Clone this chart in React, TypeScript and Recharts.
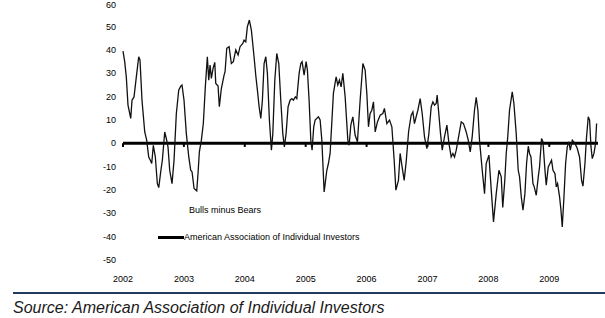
import React from "react";
import {
  LineChart,
  Line,
  XAxis,
  YAxis,
  ReferenceLine,
} from "recharts";

// time in years since Jan 2002
const yearsSince2002 = [
  0.0, 0.028, 0.054, 0.082, 0.127, 0.148, 0.181, 0.219, 0.258, 0.279, 0.312, 0.357, 0.389, 0.422, 0.449, 0.472,
  0.498, 0.531, 0.564, 0.587, 0.619, 0.646, 0.685, 0.711, 0.739, 0.767, 0.805, 0.838, 0.876, 0.915, 0.948, 0.969,
  1.002, 1.04, 1.08, 1.112, 1.134, 1.167, 1.211, 1.232, 1.254, 1.287, 1.319, 1.352, 1.385, 1.408, 1.43, 1.451,
  1.479, 1.507, 1.523, 1.561, 1.582, 1.615, 1.66, 1.676, 1.704, 1.742, 1.779, 1.812, 1.852, 1.89, 1.922, 1.967,
  1.988, 2.016, 2.042, 2.075, 2.108, 2.152, 2.18, 2.207, 2.235, 2.263, 2.289, 2.317, 2.345, 2.371, 2.404, 2.437,
  2.46, 2.493, 2.525, 2.558, 2.591, 2.624, 2.65, 2.678, 2.711, 2.744, 2.772, 2.798, 2.831, 2.854, 2.892, 2.92,
  2.941, 2.974, 3.007, 3.028, 3.056, 3.084, 3.105, 3.132, 3.155, 3.209, 3.237, 3.265, 3.303, 3.347, 3.373, 3.401,
  3.455, 3.5, 3.527, 3.554, 3.582, 3.61, 3.648, 3.692, 3.713, 3.741, 3.774, 3.812, 3.85, 3.894, 3.939, 3.976,
  4.004, 4.031, 4.058, 4.086, 4.113, 4.141, 4.178, 4.223, 4.267, 4.293, 4.333, 4.376, 4.415, 4.453, 4.481, 4.523,
  4.551, 4.579, 4.617, 4.65, 4.69, 4.732, 4.76, 4.786, 4.814, 4.842, 4.88, 4.913, 4.951, 4.99, 5.023, 5.061,
  5.089, 5.115, 5.143, 5.159, 5.181, 5.214, 5.242, 5.279, 5.319, 5.352, 5.389, 5.417, 5.444, 5.472, 5.516, 5.554,
  5.591, 5.636, 5.669, 5.702, 5.734, 5.772, 5.8, 5.828, 5.854, 5.899, 5.937, 5.964, 6.009, 6.047, 6.084, 6.129,
  6.173, 6.211, 6.236, 6.269, 6.293, 6.318, 6.347, 6.392, 6.419, 6.457, 6.49, 6.512, 6.54, 6.568, 6.6, 6.627,
  6.655, 6.676, 6.699, 6.732, 6.753, 6.786, 6.819, 6.84, 6.873, 6.896, 6.929, 6.95, 6.983, 7.011, 7.037, 7.061,
  7.093, 7.115, 7.136, 7.169, 7.192, 7.213, 7.241, 7.268, 7.295, 7.323, 7.345, 7.378, 7.422, 7.46, 7.497, 7.53,
  7.553, 7.586, 7.608, 7.64, 7.662, 7.685, 7.706, 7.734, 7.76, 7.777,
];

// AAII bulls minus bears, percentage points
const bullsMinusBears = [
  39.4, 34.9, 28.4, 16.3, 10.6, 18.4, 19.8, 28.4, 37, 35.6, 18.4, 4.8, 1.3, -5.9, -7.3, -8.7,
  -0.9, -5.9, -17.3, -19, -12.3, -7.3, 4.8, 2, -1.6, -11.6, -17.3, -7.3, 12.7, 22.7, 24.4, 24.9,
  18.4, 4.1, -5.9, -11.6, -12.3, -19.4, -20.4, -13, -3.7, 1.3, 8.4, 24.1, 37, 27, 33.4, 27.7,
  32, 34.6, 25.6, 24.5, 15.6, 23.4, 29.1, 30.6, 40.6, 41.3, 34.1, 34.9, 39.9, 37.7, 41.3, 42.7,
  44.1, 43.4, 49.8, 52.7, 48.4, 37, 29.1, 22.7, 15.6, 10.6, 18.4, 34.1, 37, 29.9, 9.9, -3,
  4.1, 27, 38.4, 34.1, 18.4, 4.1, -1.6, 4.1, 15.6, 18.4, 19.1, 18.4, 19.8, 19.1, 29.9, 34.1,
  34.9, 29.1, 34.9, 31.3, 18.4, 1.3, -3, 7, 9.9, 11.3, 9.9, 1.3, -20.9, -11.6, -8.7, -4.4,
  21.3, 28.4, 24.9, 27, 24.1, 29.9, 19.8, 1.3, -0.9, 7.7, 11.3, 3.4, 0.6, 18.4, 34.1, 31.3,
  21.3, 7, 12.7, 14.1, 17.7, 4.8, 9.1, 12, 12.7, 14.9, 8.4, 9.9, 7, -7.3, -20.1, -15.9,
  -4.4, -9.4, -15.9, -8, 5, 12, 13.4, 8.4, 11.3, 14.1, 19.1, 12.7, 2.7, -2.3, 4.1, 15.6,
  17.7, 16.3, 17, 20.6, 14.1, 4.1, -3, 2.7, 7.7, -0.1, -5.9, -4.4, -5.9, -3, 3.4, 9.1,
  8.4, 4.8, 1.3, -3.7, 2.7, 14.1, 19.6, 14.1, 1.3, -11.6, -21.6, -8.7, -5.1, -20.1, -33.7, -21.6,
  -11.6, -14.4, -27.5, -16, -4.4, 2.7, 14.1, 22, 17, 4.1, -11.6, -14.4, -23, -28.7, -21.6, -8.7,
  -1.3, -4.4, -5.9, -17.3, -18.7, -22.3, -14.4, -10.2, 2, 0.6, -11.6, -18, -10.2, -8.7, -7.3, -11.6,
  -13, -18.7, -17.3, -23, -28.7, -35.9, -23, -8.7, -1.6, 0.6, -3, 1.3, -0.1, -2.3, -5.9, -15.9,
  -18.4, -8.7, 1.3, 11.3, 9.9, -1.6, -6.6, -4.4, -0.1, 8.4,
];

const yearTicks = [2002, 2003, 2004, 2005, 2006, 2007, 2008, 2009];
const valueTicks = [-50, -40, -30, -20, -10, 0, 10, 20, 30, 40, 50, 60];

const seriesName = "American Association of Individual Investors";

const data = yearsSince2002.map((t, i) => ({
  year: 2002 + t,
  aaii: bullsMinusBears[i],
}));

const FONT = '"Liberation Sans", Arial, Helvetica, sans-serif';

export default function App() {
  return (
    <div
      style={{
        position: "absolute",
        left: 0,
        top: 0,
        width: 605,
        height: 318,
        background: "#fff",
        overflow: "hidden",
      }}
    >
      <LineChart width={605} height={290} data={data} margin={{ top: 3, right: 7, bottom: 0, left: 0 }}>
        <XAxis
          dataKey="year"
          type="number"
          domain={[2002, 2009.8]}
          ticks={yearTicks}
          axisLine={false}
          tickLine={false}
          tickMargin={10}
          height={30}
          tick={{ fontSize: 9, fill: "#000", fontFamily: FONT }}
        />
        <YAxis
          type="number"
          domain={[-50, 60]}
          ticks={valueTicks}
          axisLine={false}
          tickLine={false}
          width={123}
          tickMargin={1}
          tick={{ fontSize: 9, fill: "#000", fontFamily: FONT }}
        />
        <ReferenceLine y={0} stroke="#000" strokeWidth={3} />
        {yearTicks.map((yr) => (
          <ReferenceLine
            key={yr}
            segment={[
              { x: yr, y: 0 },
              { x: yr, y: -1.6 },
            ]}
            stroke="#000"
            strokeWidth={2}
          />
        ))}
        <Line
          type="linear"
          dataKey="aaii"
          name={seriesName}
          stroke="#111"
          strokeWidth={1.3}
          dot={false}
          isAnimationActive={false}
        />
      </LineChart>

      {/* legend */}
      <div
        style={{
          position: "absolute",
          left: 158,
          top: 205,
          fontFamily: FONT,
          fontSize: 9,
          color: "#000",
          lineHeight: "11px",
          whiteSpace: "nowrap",
        }}
      >
        <div style={{ marginLeft: 31 }}>Bulls minus Bears</div>
        <div style={{ display: "flex", alignItems: "center", marginTop: 16 }}>
          <span style={{ display: "inline-block", width: 26, height: 3, background: "#000" }} />
          <span>{seriesName}</span>
        </div>
      </div>

      <div
        style={{
          position: "absolute",
          left: 13,
          top: 292,
          width: 592,
          height: 2,
          background: "#23395d",
        }}
      />
      <div
        style={{
          position: "absolute",
          left: 13,
          top: 299,
          fontFamily: FONT,
          fontSize: 16,
          fontStyle: "italic",
          color: "#1a1a1a",
          whiteSpace: "nowrap",
          lineHeight: "18px",
        }}
      >
        Source: American Association of Individual Investors
      </div>
    </div>
  );
}
